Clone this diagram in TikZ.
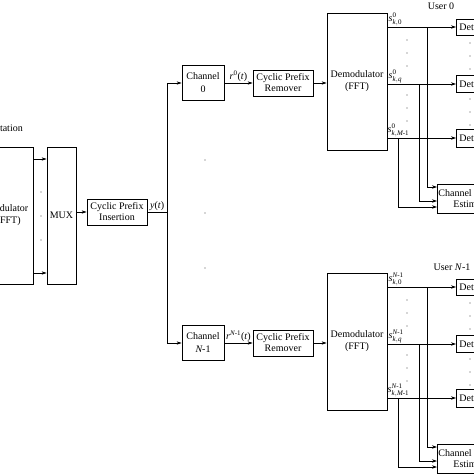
\documentclass[tikz,border=0pt]{standalone}
\usepackage{fontspec}
\usepackage{amsmath}
\setmainfont{Liberation Serif}
\usetikzlibrary{arrows.meta}
\newcommand{\mti}[1]{\text{\itshape #1}}
\newcommand{\mtr}[1]{\text{\upshape #1}}
\begin{document}
\begin{tikzpicture}[x=1pt,y=-1pt,
  box/.style={draw, line width=0.8pt, inner sep=0pt, align=center, font=\fontsize{10}{12}\selectfont},
  arr/.style={-{Stealth[length=5pt,width=3.4pt]}, line width=0.7pt},
  ln/.style={line width=0.7pt},
  lab/.style={inner sep=1pt, font=\fontsize{10}{12}\selectfont},
  slab/.style={inner sep=0.5pt, anchor=south west, font=\fontsize{10}{12}\selectfont},
  tinydot/.style={fill=black!70}
]
\useasboundingbox (0,0) rectangle (474,474);

% transmitter
\node[box, minimum width=52pt, minimum height=137pt] (mod) at (7,215.5) {Modulator\\(IFFT)};
\node[lab, anchor=base east] (bs) at (24,131) {Base Station};
\node[box, minimum width=29pt, minimum height=137pt] (mux) at (61.5,215.5) {MUX};
\draw[arr] (mod.east |- 0,159) -- (mux.west |- 0,159);
\draw[arr] (mod.east |- 0,273) -- (mux.west |- 0,273);
\foreach \yy in {192,216,240} \fill[tinydot] (41,\yy) circle[radius=0.6pt];
\node[box, minimum width=60pt, minimum height=26pt, font=\fontsize{10}{11}\selectfont] (cpi) at (117,212) {Cyclic Prefix\\Insertion};
\draw[arr] (mux.east |- cpi.west) -- (cpi.west);
\coordinate (bj) at (167,212);
\coordinate (bt) at (167,83);
\coordinate (bb) at (167,343);
\draw[ln] (cpi.east) -- (bj) node[midway, above, lab] {\textit{y}(\textit{t})};
\draw[ln] (bt) -- (bb);
\foreach \yy in {160,213,268} \fill[tinydot] (205,\yy) circle[radius=0.6pt];

\foreach \off/\gi/\supx in {0/0/{\mtr{0}}, 260/1/{\mti{N}\mtr{-1}}} {
  \node[box, minimum width=42pt, minimum height=35pt, font=\fontsize{10}{13}\selectfont] (ch\gi) at (203,83+\off) {Channel\\\supx};
  \node[box, minimum width=60pt, minimum height=26pt, font=\fontsize{10}{11}\selectfont] (cpr\gi) at (283,83+\off) {Cyclic Prefix\\Remover};
  \node[box, minimum width=60pt, minimum height=137pt] (dem\gi) at (357,81.5+\off) {Demodulator\\(FFT)};
  \draw[arr] (bt |- ch\gi.west) -- (ch\gi.west);
  \draw[arr] (ch\gi.east) -- (cpr\gi.west) node[midway, above, lab, inner sep=1.5pt] {\textit{r}$^{\supx}$(\textit{t})};
  \draw[arr] (cpr\gi.east) -- (cpr\gi.east -| dem\gi.west);
  % detectors
  \node[box, anchor=west, inner xsep=3pt, minimum height=16pt] (da\gi) at (456,27+\off) {Detector};
  \node[box, anchor=west, inner xsep=3pt, minimum height=17pt] (db\gi) at (456,84+\off) {Detector};
  \node[box, anchor=west, inner xsep=3pt, minimum height=18pt] (dc\gi) at (456,138+\off) {Detector};
  \draw[arr] (dem\gi.east |- da\gi.west) -- (da\gi.west);
  \draw[arr] (dem\gi.east |- db\gi.west) -- (db\gi.west);
  \draw[arr] (dem\gi.east |- dc\gi.west) -- (dc\gi.west);
  % channel estimator
  \node[box, anchor=west, inner xsep=1pt, minimum height=29pt, align=left, font=\fontsize{10}{11}\selectfont] (ce\gi) at (437,198.5+\off) {Channel\\\hspace*{15pt}Estimator};
  \coordinate (ta\gi) at (427,27+\off);
  \coordinate (tb\gi) at (419,84+\off);
  \coordinate (tc\gi) at (398,138+\off);
  \draw[arr] (ta\gi) |- (ce\gi.west |- 0,187+\off);
  \draw[arr] (tb\gi) |- (ce\gi.west |- 0,201+\off);
  \draw[arr] (tc\gi) |- (ce\gi.west |- 0,207+\off);
  % labels
  \node[slab] at (388,26.5+\off) {\textit{s}$^{\supx}_{\mti{k},\mtr{0}}$};
  \node[slab] at (388,83.5+\off) {\textit{s}$^{\supx}_{\mti{k},\mti{q}}$};
  \node[slab] at (387,137.5+\off) {\textit{s}$^{\supx}_{\mti{k},\mti{M}\mtr{-1}}$};
  % dots
  \foreach \yy in {40,53,66,95,108,121} \fill[tinydot] (407,\yy+\off) circle[radius=0.6pt];
  \foreach \yy in {43,56,69,99,112,125} \fill[tinydot] (470,\yy+\off) circle[radius=0.6pt];
}
\node[lab] (u0) at (441,6) {User 0};
\node[lab] (u1) at (452,267) {User \textit{N}-1};
\end{tikzpicture}
\end{document}
